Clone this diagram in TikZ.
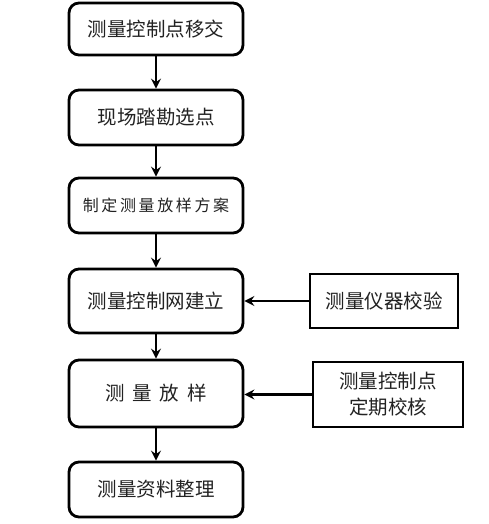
\documentclass[tikz,border=0pt]{standalone}
\usepackage{fontspec}
\setmainfont{Noto Sans CJK SC}
\usetikzlibrary{arrows.meta}
\definecolor{txt}{HTML}{222222}
\tikzset{
  flowbox/.style={draw=black, line width=2.8pt, rounded corners=10pt, minimum width=174pt, inner sep=0pt, text=txt, font=\fontsize{19.5}{22}\selectfont, align=center},
  sidebox/.style={draw=black, line width=2.8pt, inner sep=0pt, text=txt, font=\fontsize{19.5}{26}\selectfont, align=center},
  flowarrow/.style={line width=2.2pt, -{Stealth[length=10pt,width=10pt,inset=3.5pt]}}
}
\begin{document}
\begin{tikzpicture}[x=1pt,y=-1pt]
\useasboundingbox[fill=white] (0,0) rectangle (488,524);
\node[flowbox, minimum height=52pt] (b1) at (156,29) {测量控制点移交};
\node[flowbox, minimum height=55pt] (b2) at (156,117.5) {现场踏勘选点};
\node[flowbox, minimum height=55pt, font=\fontsize{16}{20}\selectfont] (b3) at (156,205.5) {制\hspace{2.6pt}定\hspace{2.6pt}测\hspace{2.6pt}量\hspace{2.6pt}放\hspace{2.6pt}样\hspace{2.6pt}方\hspace{2.6pt}案};
\node[flowbox, minimum height=64pt] (b4) at (156,301) {测量控制网建立};
\node[flowbox, minimum height=67pt] (b5) at (156,393.5) {测\hspace{8pt}量\hspace{8pt}放\hspace{8pt}样};
\node[flowbox, minimum height=55pt] (b6) at (156,489.5) {测量资料整理};
\node[sidebox, minimum width=148pt, minimum height=54pt] (r1) at (384,301) {测量仪器校验};
\node[sidebox, minimum width=150pt, minimum height=65pt] (r2) at (388,394.5) {测量控制点\\定期校核};
\draw[flowarrow] (b1) -- (b2);
\draw[flowarrow] (b2) -- (b3);
\draw[flowarrow] (b3) -- (b4);
\draw[flowarrow] (b4) -- (b5);
\draw[flowarrow] (b5) -- (b6);
\draw[flowarrow] (r1) -- (b4);
\draw[flowarrow] (r2.west) -- (b5.east |- r2.west);
\end{tikzpicture}
\end{document}
